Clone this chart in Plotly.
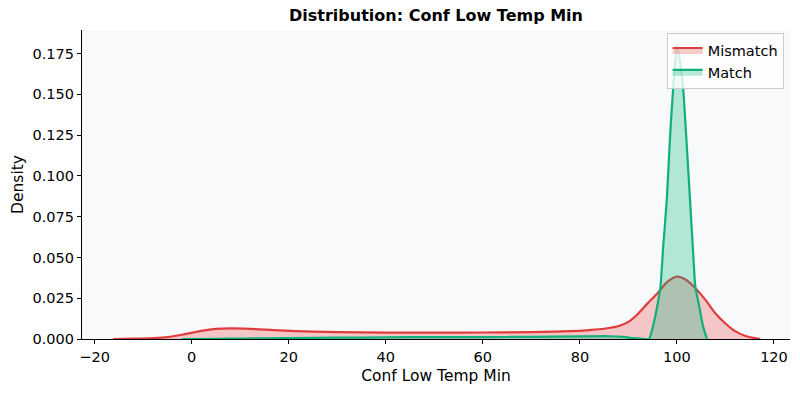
import plotly.graph_objects as go

# Data
mismatch_x = [-16.2, -12, -8, -5, -2, 0, 2, 5, 8, 12, 18, 25, 30, 40, 50, 60, 70, 78, 82, 85,
              88, 90, 92, 94, 96, 98, 100, 102, 104, 106, 108, 110, 112, 114, 116, 117.2]
mismatch_y = [0, 0.0002, 0.0006, 0.0012, 0.0026, 0.0038, 0.0050, 0.0062, 0.0065, 0.0062,
              0.0053, 0.0045, 0.0042, 0.0039, 0.0039, 0.0040, 0.0042, 0.0048, 0.0055, 0.0063,
              0.0080, 0.0105, 0.0155, 0.0220, 0.0280, 0.0350, 0.0382, 0.0360, 0.0305, 0.0235,
              0.0155, 0.0095, 0.0048, 0.0020, 0.0005, 0]

match_x = [-2, 5, 10, 20, 30, 40, 50, 60, 70, 80, 86, 89, 91, 93, 94.2, 95, 96, 96.6, 97.2,
           97.9, 98.6, 99.3, 100, 100.6, 101.2, 102, 102.7, 103.3, 103.8, 104.6, 105.4, 106.2]
match_y = [0, 0.0001, 0.0003, 0.0006, 0.0008, 0.0010, 0.0012, 0.0012, 0.0013, 0.0016, 0.0017,
           0.0013, 0.0005, 0.0001, 0, 0.007, 0.021, 0.032, 0.058, 0.085, 0.125, 0.157, 0.180,
           0.171, 0.157, 0.120, 0.085, 0.055, 0.032, 0.020, 0.0076, 0]

title = "Distribution: Conf Low Temp Min"
x_label = "Conf Low Temp Min"
y_label = "Density"

RED = "#e03c3c"
GREEN = "#10b07a"
RED_FILL = "rgba(235,80,80,0.3)"
GREEN_FILL = "rgba(16,185,129,0.3)"

fig = go.Figure()
fig.add_trace(go.Scatter(
    x=mismatch_x, y=mismatch_y, name="Mismatch", mode="lines",
    line=dict(color=RED, width=2.2, shape="spline", smoothing=0.8),
    fill="tozeroy", fillcolor=RED_FILL))
fig.add_trace(go.Scatter(
    x=match_x, y=match_y, name="Match", mode="lines",
    line=dict(color=GREEN, width=2.2, shape="spline", smoothing=0.6),
    fill="tozeroy", fillcolor=GREEN_FILL))

font = "DejaVu Sans"
fig.update_layout(
    width=800, height=394,
    margin=dict(l=82, r=10, t=30, b=55),
    paper_bgcolor="white", plot_bgcolor="#f8f9fb",
    font=dict(family=font, size=15, color="black"),
    title=dict(text="<b>" + title + "</b>", x=0.545, xanchor="center", y=0.96, yanchor="middle",
               font=dict(size=16, family=font)),
    legend=dict(x=0.991, y=0.99, xanchor="right", yanchor="top",
                bgcolor="rgba(255,255,255,0.8)", bordercolor="#cccccc", borderwidth=1,
                font=dict(size=14.5), tracegroupgap=0, itemwidth=30),
    showlegend=True,
)
fig.update_xaxes(range=[-22.6, 123.3], tickvals=[-20, 0, 20, 40, 60, 80, 100, 120],
                 showgrid=False, zeroline=False, showline=True, linecolor="black", linewidth=1.2,
                 ticks="outside", ticklen=4, tickcolor="black", tickfont=dict(size=14.5),
                 title=dict(text=x_label, font=dict(size=15.5), standoff=6))
fig.update_yaxes(range=[0, 0.1895], tickvals=[0, 0.025, 0.05, 0.075, 0.1, 0.125, 0.15, 0.175],
                 tickformat=".3f", tickfont=dict(size=14.5),
                 showgrid=False, zeroline=False, showline=True, linecolor="black", linewidth=1.2,
                 ticks="outside", ticklen=4, tickcolor="black",
                 title=dict(text=y_label, font=dict(size=15.5), standoff=5))

fig.write_html("out.html")
